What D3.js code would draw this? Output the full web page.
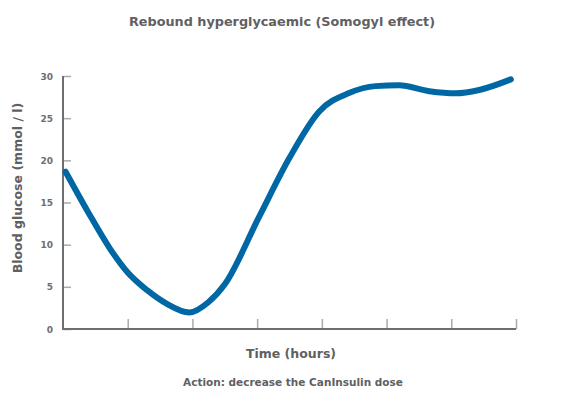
<!DOCTYPE html>
<html>
<head>
<meta charset="utf-8">
<script src="https://cdn.jsdelivr.net/npm/d3@7"></script>
<style>
  body { margin: 0; background: #fff; }
  text { font-family: "DejaVu Sans", sans-serif; font-weight: bold; }
</style>
</head>
<body>
<svg id="chart" width="565" height="404"></svg>
<script>
// values (time in hours, glucose in mmol/l)
let hours   = [0.04, 0.4, 0.72, 1.0, 1.3, 1.6, 1.95, 2.25, 2.5, 3.03, 3.5, 3.96, 4.42, 4.83, 5.19, 5.66, 6.07, 6.43, 6.92];
let glucose = [18.65, 13.7, 9.6, 6.7, 4.6, 3.0, 1.95, 3.2, 5.3, 13.3, 20.3, 25.8, 27.98, 28.8, 28.9, 28.2, 27.95, 28.34, 29.6];
let yTicks  = [0, 5, 10, 15, 20, 25, 30];
let xTicks  = [1, 2, 3, 4, 5, 6, 7];

let svg = d3.select("#chart");
let xScale = d3.scaleLinear().domain([0, 7]).range([63, 516]);
let yScale = d3.scaleLinear().domain([0, 30]).range([329, 76]);

// title and captions
svg.append("text")
  .attr("x", 282).attr("y", 26)
  .attr("text-anchor", "middle")
  .attr("font-size", 12.8)
  .attr("fill", "#5f6062")
  .text("Rebound hyperglycaemic (Somogyl effect)");

svg.append("text")
  .attr("x", 291).attr("y", 358)
  .attr("text-anchor", "middle")
  .attr("font-size", 12.5)
  .attr("fill", "#5f6062")
  .text("Time (hours)");

svg.append("text")
  .attr("x", 293).attr("y", 386)
  .attr("text-anchor", "middle")
  .attr("font-size", 10.5)
  .attr("fill", "#5f6062")
  .text("Action: decrease the CanInsulin dose");

svg.append("text")
  .attr("transform", "translate(22,188) rotate(-90)")
  .attr("text-anchor", "middle")
  .attr("font-size", 12.5)
  .attr("fill", "#5f6062")
  .text("Blood glucose (mmol / l)");

// y axis
let yAxis = svg.append("g")
  .attr("transform", "translate(63,0)")
  .call(d3.axisRight(yScale).tickValues(yTicks).tickSize(8).tickFormat(""));
yAxis.select(".domain").remove();
yAxis.selectAll(".tick line").attr("stroke", "#a9abae").attr("stroke-width", 1.5);
yAxis.selectAll(".tick").append("text")
  .attr("x", -10).attr("dy", "0.35em")
  .attr("text-anchor", "end")
  .attr("font-size", 9)
  .attr("fill", "#6d6e71")
  .text(d => d);

// x axis
let xAxis = svg.append("g")
  .attr("transform", "translate(0,329)")
  .call(d3.axisTop(xScale).tickValues(xTicks).tickSize(10).tickFormat(""));
xAxis.select(".domain").remove();
xAxis.selectAll(".tick line").attr("stroke", "#a9abae").attr("stroke-width", 1.5);

// axis lines
svg.append("path")
  .attr("d", "M" + xScale(0) + "," + yScale(30) + "V" + yScale(0) + "H" + xScale(7))
  .attr("fill", "none")
  .attr("stroke", "#6d6e71")
  .attr("stroke-width", 2);

// the curve
let lineGen = d3.line()
  .x((d, i) => xScale(hours[i]))
  .y(d => yScale(d))
  .curve(d3.curveMonotoneX);

svg.append("path")
  .datum(glucose)
  .attr("fill", "none")
  .attr("stroke", "#0067a5")
  .attr("stroke-width", 6)
  .attr("stroke-linecap", "round")
  .attr("d", lineGen);
</script>
</body>
</html>
